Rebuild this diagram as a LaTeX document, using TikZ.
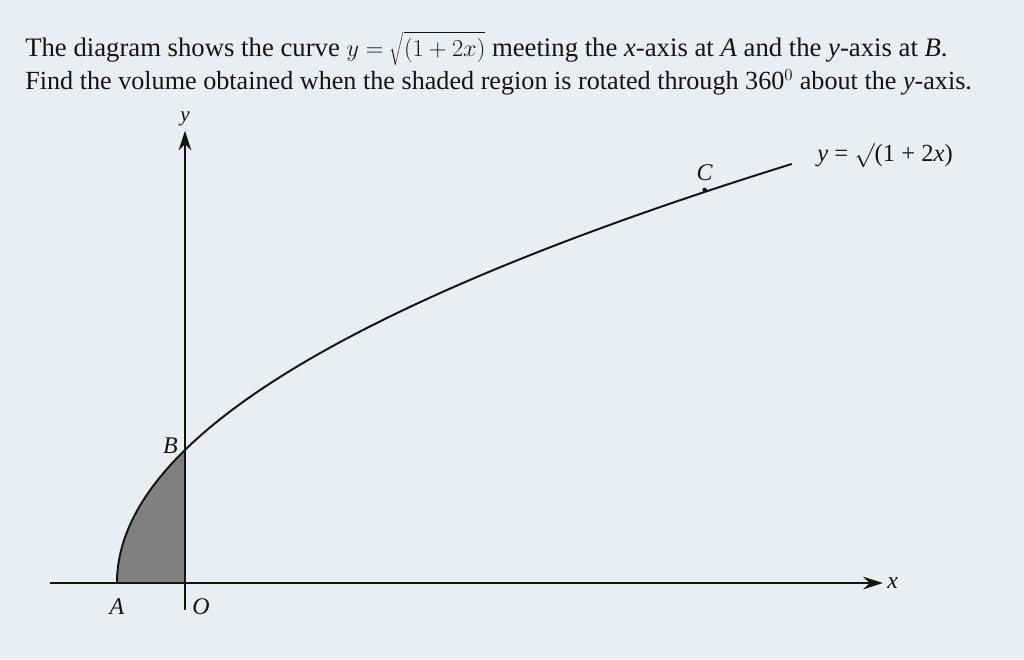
\documentclass[tikz,border=0pt]{standalone}
\usepackage{fontspec}
\setmainfont{Liberation Serif}
\usetikzlibrary{arrows.meta}
\definecolor{bgc}{RGB}{234,238,242}
\definecolor{regiongray}{RGB}{128,128,128}
\definecolor{ink}{RGB}{20,20,20}
\tikzset{
  axis/.style={draw=ink, line width=1.4pt},
  curveline/.style={draw=ink, line width=1.4pt},
  lbl/.style={font=\fontsize{17}{19}\selectfont\itshape, text=ink, inner sep=1pt},
  para/.style={font=\fontsize{19}{22}\selectfont, text=ink, inner sep=0pt, anchor=base west},
}
\begin{document}
\begin{tikzpicture}[x=0.025cm,y=-0.025cm]
\fill[bgc] (0,0) rectangle (1024,659);
\useasboundingbox (0,0) rectangle (1024,659);
\node[para] (t1) at (25,56) {The diagram shows the curve $y=\sqrt{(1+2x)}$ meeting the \textit{x}-axis at \textit{A} and the \textit{y}-axis at \textit{B}.};
\node[para, font=\fontsize{18.6}{22}\selectfont] (t2) at (25,89) {Find the volume obtained when the shaded region is rotated through 360$^0$ about the \textit{y}-axis.};
\begin{scope}[shift={(185,583)}, x=3.4cm, y=3.325cm]
  \coordinate (O) at (0,0);
  \coordinate (A) at (-0.5,0);
  \coordinate (B) at (0,1);
  \coordinate (C) at (3.82,2.955);
  \coordinate (E) at (4.45,3.15);
  \coordinate (xl) at (-0.99,0);
  \coordinate (xr) at (5.13,0);
  \coordinate (yb) at (0,-0.2);
  \coordinate (yt) at (0,3.4);
  \fill[regiongray] (A) -- plot[domain=0:1, samples=40, smooth] ({(\x*\x-1)/2},\x) -- (O) -- cycle;
  \draw[curveline] plot[domain=0:3.15, samples=80, smooth] ({(\x*\x-1)/2},\x);
  \draw[axis, -{Stealth[length=14pt,width=9pt]}] (xl) -- (xr);
  \draw[axis, -{Stealth[length=14pt,width=9pt]}] (yb) -- (yt);
  \fill[ink] (C) circle (1.6pt);
  \node[lbl, anchor=south] (Cl) at ([yshift=5pt]C) {C};
  \node[lbl, anchor=east] (Bl) at ([xshift=-4pt,yshift=3pt]B) {B};
  \node[lbl, anchor=north] (Al) at ([yshift=-10pt]A) {A};
  \node[lbl, anchor=north west] (Ol) at ([xshift=4pt,yshift=-10pt]O) {O};
  \node[lbl, anchor=west] (xlab) at ([xshift=2pt]xr) {x};
  \node[lbl, anchor=south, font=\fontsize{15}{17}\selectfont\itshape] (ylab) at ([yshift=2pt]yt) {y};
  \node[lbl, anchor=west, font=\fontsize{17.5}{19}\selectfont] (eq) at ([xshift=18pt,yshift=6pt]E) {\textit{y} = $\surd$(1 + 2\textit{x})};
\end{scope}
\end{tikzpicture}
\end{document}
